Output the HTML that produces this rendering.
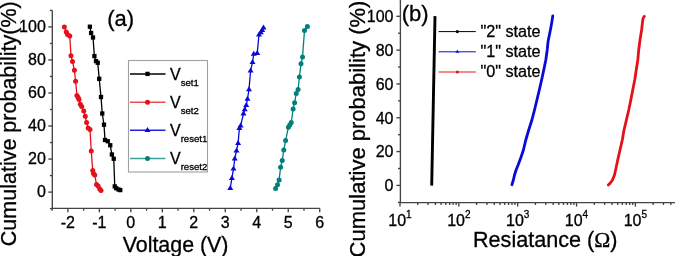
<!DOCTYPE html><html><head><meta charset="utf-8"><style>html,body{margin:0;padding:0;background:#fff;}svg{display:block;}text{font-family:"Liberation Sans",Arial,sans-serif;fill:#000;stroke:#000;stroke-width:0.3px;}</style></head><body>
<svg width="675" height="256" viewBox="0 0 675 256">
<rect width="675" height="256" fill="#fff"/>
<g stroke="#444" stroke-width="1.35" fill="none">
<path d="M52.3,10.4V208.3H319.7"/>
<path d="M67.89,208.3v4"/>
<path d="M99.37,208.3v4"/>
<path d="M130.85,208.3v4"/>
<path d="M162.33,208.3v4"/>
<path d="M193.81,208.3v4"/>
<path d="M225.29,208.3v4"/>
<path d="M256.77,208.3v4"/>
<path d="M288.25,208.3v4"/>
<path d="M319.73,208.3v4"/>
<path d="M52.15,208.3v2.4"/>
<path d="M83.63,208.3v2.4"/>
<path d="M115.11,208.3v2.4"/>
<path d="M146.59,208.3v2.4"/>
<path d="M178.07,208.3v2.4"/>
<path d="M209.55,208.3v2.4"/>
<path d="M241.03,208.3v2.4"/>
<path d="M272.51,208.3v2.4"/>
<path d="M303.99,208.3v2.4"/>
<path d="M52.3,192.10h-4"/>
<path d="M52.3,159.06h-4"/>
<path d="M52.3,126.02h-4"/>
<path d="M52.3,92.98h-4"/>
<path d="M52.3,59.94h-4"/>
<path d="M52.3,26.90h-4"/>
<path d="M52.3,208.62h-2.4"/>
<path d="M52.3,175.58h-2.4"/>
<path d="M52.3,142.54h-2.4"/>
<path d="M52.3,109.50h-2.4"/>
<path d="M52.3,76.46h-2.4"/>
<path d="M52.3,43.42h-2.4"/>
<path d="M52.3,10.38h-2.4"/>
</g>
<g font-size="16">
<text x="45.8" y="197.4" text-anchor="end">0</text>
<text x="45.8" y="164.4" text-anchor="end">20</text>
<text x="45.8" y="131.3" text-anchor="end">40</text>
<text x="45.8" y="98.3" text-anchor="end">60</text>
<text x="45.8" y="65.2" text-anchor="end">80</text>
<text x="45.8" y="32.2" text-anchor="end">100</text>
<text x="67.9" y="228" text-anchor="middle">-2</text>
<text x="99.4" y="228" text-anchor="middle">-1</text>
<text x="130.8" y="228" text-anchor="middle">0</text>
<text x="162.3" y="228" text-anchor="middle">1</text>
<text x="193.8" y="228" text-anchor="middle">2</text>
<text x="225.3" y="228" text-anchor="middle">3</text>
<text x="256.8" y="228" text-anchor="middle">4</text>
<text x="288.2" y="228" text-anchor="middle">5</text>
<text x="319.7" y="228" text-anchor="middle">6</text>
</g>
<text x="175.6" y="251.7" font-size="21.4" text-anchor="middle">Voltage (V)</text>
<text transform="translate(15.6,123.7) rotate(-90)" font-size="21.5" text-anchor="middle">Cumulative probability(%)</text>
<text x="107.3" y="25.5" font-size="22">(a)</text>
<polyline points="64.40,26.90 66.25,31.90 67.50,34.40 69.75,36.00 71.00,55.75 72.50,61.50 74.40,70.25 75.60,81.25 76.90,95.40 78.10,97.50 79.00,99.50 80.30,104.20 81.70,106.40 83.75,111.00 85.25,116.25 86.60,122.50 88.20,128.00 90.00,129.50 91.25,151.00 92.75,170.60 93.50,173.50 94.75,175.10 96.50,184.50 98.10,186.00 99.75,188.90 101.00,190.50" fill="none" stroke="#e6101a" stroke-width="1.3"/>
<circle cx="64.40" cy="26.90" r="2.5" fill="#e6101a"/>
<circle cx="66.25" cy="31.90" r="2.5" fill="#e6101a"/>
<circle cx="67.50" cy="34.40" r="2.5" fill="#e6101a"/>
<circle cx="69.75" cy="36.00" r="2.5" fill="#e6101a"/>
<circle cx="71.00" cy="55.75" r="2.5" fill="#e6101a"/>
<circle cx="72.50" cy="61.50" r="2.5" fill="#e6101a"/>
<circle cx="74.40" cy="70.25" r="2.5" fill="#e6101a"/>
<circle cx="75.60" cy="81.25" r="2.5" fill="#e6101a"/>
<circle cx="76.90" cy="95.40" r="2.5" fill="#e6101a"/>
<circle cx="78.10" cy="97.50" r="2.5" fill="#e6101a"/>
<circle cx="79.00" cy="99.50" r="2.5" fill="#e6101a"/>
<circle cx="80.30" cy="104.20" r="2.5" fill="#e6101a"/>
<circle cx="81.70" cy="106.40" r="2.5" fill="#e6101a"/>
<circle cx="83.75" cy="111.00" r="2.5" fill="#e6101a"/>
<circle cx="85.25" cy="116.25" r="2.5" fill="#e6101a"/>
<circle cx="86.60" cy="122.50" r="2.5" fill="#e6101a"/>
<circle cx="88.20" cy="128.00" r="2.5" fill="#e6101a"/>
<circle cx="90.00" cy="129.50" r="2.5" fill="#e6101a"/>
<circle cx="91.25" cy="151.00" r="2.5" fill="#e6101a"/>
<circle cx="92.75" cy="170.60" r="2.5" fill="#e6101a"/>
<circle cx="93.50" cy="173.50" r="2.5" fill="#e6101a"/>
<circle cx="94.75" cy="175.10" r="2.5" fill="#e6101a"/>
<circle cx="96.50" cy="184.50" r="2.5" fill="#e6101a"/>
<circle cx="98.10" cy="186.00" r="2.5" fill="#e6101a"/>
<circle cx="99.75" cy="188.90" r="2.5" fill="#e6101a"/>
<circle cx="101.00" cy="190.50" r="2.5" fill="#e6101a"/>
<polyline points="89.90,26.70 91.10,33.00 93.00,37.50 94.40,56.10 96.00,61.10 97.75,62.75 99.20,78.80 101.00,97.00 102.25,113.50 104.00,124.70 105.00,140.00 107.75,141.25 110.25,145.25 111.90,154.50 113.75,158.75 114.75,186.40 116.25,188.25 118.50,189.50 120.25,190.10" fill="none" stroke="#000" stroke-width="1.3"/>
<rect x="87.75" y="24.55" width="4.3" height="4.3" fill="#000"/>
<rect x="88.95" y="30.85" width="4.3" height="4.3" fill="#000"/>
<rect x="90.85" y="35.35" width="4.3" height="4.3" fill="#000"/>
<rect x="92.25" y="53.95" width="4.3" height="4.3" fill="#000"/>
<rect x="93.85" y="58.95" width="4.3" height="4.3" fill="#000"/>
<rect x="95.60" y="60.60" width="4.3" height="4.3" fill="#000"/>
<rect x="97.05" y="76.65" width="4.3" height="4.3" fill="#000"/>
<rect x="98.85" y="94.85" width="4.3" height="4.3" fill="#000"/>
<rect x="100.10" y="111.35" width="4.3" height="4.3" fill="#000"/>
<rect x="101.85" y="122.55" width="4.3" height="4.3" fill="#000"/>
<rect x="102.85" y="137.85" width="4.3" height="4.3" fill="#000"/>
<rect x="105.60" y="139.10" width="4.3" height="4.3" fill="#000"/>
<rect x="108.10" y="143.10" width="4.3" height="4.3" fill="#000"/>
<rect x="109.75" y="152.35" width="4.3" height="4.3" fill="#000"/>
<rect x="111.60" y="156.60" width="4.3" height="4.3" fill="#000"/>
<rect x="112.60" y="184.25" width="4.3" height="4.3" fill="#000"/>
<rect x="114.10" y="186.10" width="4.3" height="4.3" fill="#000"/>
<rect x="116.35" y="187.35" width="4.3" height="4.3" fill="#000"/>
<rect x="118.10" y="187.95" width="4.3" height="4.3" fill="#000"/>
<polyline points="263.50,27.60 262.20,30.10 260.80,32.50 259.00,34.60 257.25,53.10 253.75,54.00 252.50,62.30 250.60,70.60 249.00,89.40 247.50,99.00 246.25,105.20 244.75,109.40 243.50,113.75 240.60,125.60 239.40,128.10 238.10,143.10 236.50,150.60 234.75,158.75 233.50,168.75 231.90,178.10 230.25,188.10" fill="none" stroke="#0a0ad8" stroke-width="1.3"/>
<path d="M263.50,24.40l3,5h-6z" fill="#0a0ad8"/>
<path d="M262.20,26.90l3,5h-6z" fill="#0a0ad8"/>
<path d="M260.80,29.30l3,5h-6z" fill="#0a0ad8"/>
<path d="M259.00,31.40l3,5h-6z" fill="#0a0ad8"/>
<path d="M257.25,49.90l3,5h-6z" fill="#0a0ad8"/>
<path d="M253.75,50.80l3,5h-6z" fill="#0a0ad8"/>
<path d="M252.50,59.10l3,5h-6z" fill="#0a0ad8"/>
<path d="M250.60,67.40l3,5h-6z" fill="#0a0ad8"/>
<path d="M249.00,86.20l3,5h-6z" fill="#0a0ad8"/>
<path d="M247.50,95.80l3,5h-6z" fill="#0a0ad8"/>
<path d="M246.25,102.00l3,5h-6z" fill="#0a0ad8"/>
<path d="M244.75,106.20l3,5h-6z" fill="#0a0ad8"/>
<path d="M243.50,110.55l3,5h-6z" fill="#0a0ad8"/>
<path d="M240.60,122.40l3,5h-6z" fill="#0a0ad8"/>
<path d="M239.40,124.90l3,5h-6z" fill="#0a0ad8"/>
<path d="M238.10,139.90l3,5h-6z" fill="#0a0ad8"/>
<path d="M236.50,147.40l3,5h-6z" fill="#0a0ad8"/>
<path d="M234.75,155.55l3,5h-6z" fill="#0a0ad8"/>
<path d="M233.50,165.55l3,5h-6z" fill="#0a0ad8"/>
<path d="M231.90,174.90l3,5h-6z" fill="#0a0ad8"/>
<path d="M230.25,184.90l3,5h-6z" fill="#0a0ad8"/>
<polyline points="307.40,26.60 304.50,30.50 302.50,57.10 301.00,63.75 299.40,77.00 298.10,89.50 296.25,93.50 294.60,102.70 293.10,109.00 291.25,122.50 289.75,125.00 288.40,127.20 285.60,140.60 283.75,150.00 282.25,160.60 280.60,167.25 279.10,180.10 277.50,184.75 275.60,188.50" fill="none" stroke="#00807a" stroke-width="1.3"/>
<circle cx="307.40" cy="26.60" r="2.5" fill="#00807a"/>
<circle cx="304.50" cy="30.50" r="2.5" fill="#00807a"/>
<circle cx="302.50" cy="57.10" r="2.5" fill="#00807a"/>
<circle cx="301.00" cy="63.75" r="2.5" fill="#00807a"/>
<circle cx="299.40" cy="77.00" r="2.5" fill="#00807a"/>
<circle cx="298.10" cy="89.50" r="2.5" fill="#00807a"/>
<circle cx="296.25" cy="93.50" r="2.5" fill="#00807a"/>
<circle cx="294.60" cy="102.70" r="2.5" fill="#00807a"/>
<circle cx="293.10" cy="109.00" r="2.5" fill="#00807a"/>
<circle cx="291.25" cy="122.50" r="2.5" fill="#00807a"/>
<circle cx="289.75" cy="125.00" r="2.5" fill="#00807a"/>
<circle cx="288.40" cy="127.20" r="2.5" fill="#00807a"/>
<circle cx="285.60" cy="140.60" r="2.5" fill="#00807a"/>
<circle cx="283.75" cy="150.00" r="2.5" fill="#00807a"/>
<circle cx="282.25" cy="160.60" r="2.5" fill="#00807a"/>
<circle cx="280.60" cy="167.25" r="2.5" fill="#00807a"/>
<circle cx="279.10" cy="180.10" r="2.5" fill="#00807a"/>
<circle cx="277.50" cy="184.75" r="2.5" fill="#00807a"/>
<circle cx="275.60" cy="188.50" r="2.5" fill="#00807a"/>
<rect x="128.5" y="60.5" width="79" height="111.5" fill="#fff" stroke="#a0a0a0" stroke-width="1.1"/>
<line x1="130" y1="73.9" x2="165.5" y2="73.9" stroke="#000" stroke-width="1.5" stroke-opacity="1"/>
<rect x="145.35" y="71.75" width="4.3" height="4.3" fill="#000"/>
<text x="170" y="79.5" font-size="16">V<tspan font-size="9.6" dy="6.0">set1</tspan></text>
<line x1="130" y1="102.2" x2="165.5" y2="102.2" stroke="#e6101a" stroke-width="1.5" stroke-opacity="0.75"/>
<circle cx="147.5" cy="102.2" r="2.5" fill="#e6101a"/>
<text x="170" y="107.8" font-size="16">V<tspan font-size="9.6" dy="6.0">set2</tspan></text>
<line x1="130" y1="130.3" x2="165.5" y2="130.3" stroke="#0a0ad8" stroke-width="1.5" stroke-opacity="0.9"/>
<path d="M147.5,127.10l3,5h-6z" fill="#0a0ad8"/>
<text x="170" y="135.9" font-size="16">V<tspan font-size="9.6" dy="6.0">reset1</tspan></text>
<line x1="130" y1="158.5" x2="165.5" y2="158.5" stroke="#00807a" stroke-width="1.5" stroke-opacity="0.75"/>
<circle cx="147.5" cy="158.5" r="2.5" fill="#00807a"/>
<text x="170" y="164.1" font-size="16">V<tspan font-size="9.6" dy="6.0">reset2</tspan></text>
<g stroke="#444" stroke-width="1.35" fill="none">
<path d="M400.4,-0.6V202.6H675"/>
<path d="M400.4,185.40h-4"/>
<path d="M400.4,151.58h-4"/>
<path d="M400.4,117.76h-4"/>
<path d="M400.4,83.94h-4"/>
<path d="M400.4,50.12h-4"/>
<path d="M400.4,16.30h-4"/>
<path d="M400.4,202.31h-2.4"/>
<path d="M400.4,168.49h-2.4"/>
<path d="M400.4,134.67h-2.4"/>
<path d="M400.4,100.85h-2.4"/>
<path d="M400.4,67.03h-2.4"/>
<path d="M400.4,33.21h-2.4"/>
<path d="M400.4,-0.61h-2.4"/>
<path d="M400.00,202.6v4"/>
<path d="M417.72,202.6v2.4"/>
<path d="M428.08,202.6v2.4"/>
<path d="M435.43,202.6v2.4"/>
<path d="M441.13,202.6v2.4"/>
<path d="M445.79,202.6v2.4"/>
<path d="M449.73,202.6v2.4"/>
<path d="M453.15,202.6v2.4"/>
<path d="M456.16,202.6v2.4"/>
<path d="M458.85,202.6v4"/>
<path d="M476.57,202.6v2.4"/>
<path d="M486.93,202.6v2.4"/>
<path d="M494.28,202.6v2.4"/>
<path d="M499.98,202.6v2.4"/>
<path d="M504.64,202.6v2.4"/>
<path d="M508.58,202.6v2.4"/>
<path d="M512.00,202.6v2.4"/>
<path d="M515.01,202.6v2.4"/>
<path d="M517.70,202.6v4"/>
<path d="M535.42,202.6v2.4"/>
<path d="M545.78,202.6v2.4"/>
<path d="M553.13,202.6v2.4"/>
<path d="M558.83,202.6v2.4"/>
<path d="M563.49,202.6v2.4"/>
<path d="M567.43,202.6v2.4"/>
<path d="M570.85,202.6v2.4"/>
<path d="M573.86,202.6v2.4"/>
<path d="M576.55,202.6v4"/>
<path d="M594.27,202.6v2.4"/>
<path d="M604.63,202.6v2.4"/>
<path d="M611.98,202.6v2.4"/>
<path d="M617.68,202.6v2.4"/>
<path d="M622.34,202.6v2.4"/>
<path d="M626.28,202.6v2.4"/>
<path d="M629.70,202.6v2.4"/>
<path d="M632.71,202.6v2.4"/>
<path d="M635.40,202.6v4"/>
<path d="M653.12,202.6v2.4"/>
<path d="M663.48,202.6v2.4"/>
<path d="M670.83,202.6v2.4"/>
</g>
<g font-size="16">
<text x="393.5" y="191.1" text-anchor="end">0</text>
<text x="393.5" y="157.3" text-anchor="end">20</text>
<text x="393.5" y="123.5" text-anchor="end">40</text>
<text x="393.5" y="89.6" text-anchor="end">60</text>
<text x="393.5" y="55.8" text-anchor="end">80</text>
<text x="393.5" y="22.0" text-anchor="end">100</text>
<text x="400.0" y="225.6" text-anchor="middle">10<tspan font-size="10" dy="-8">1</tspan></text>
<text x="458.9" y="225.6" text-anchor="middle">10<tspan font-size="10" dy="-8">2</tspan></text>
<text x="517.7" y="225.6" text-anchor="middle">10<tspan font-size="10" dy="-8">3</tspan></text>
<text x="576.5" y="225.6" text-anchor="middle">10<tspan font-size="10" dy="-8">4</tspan></text>
<text x="635.4" y="225.6" text-anchor="middle">10<tspan font-size="10" dy="-8">5</tspan></text>
</g>
<text x="473" y="247.3" font-size="21.6">Resiatance (<tspan font-family="Liberation Serif">&#937;</tspan>)</text>
<text transform="translate(364.5,129) rotate(-90)" font-size="22" text-anchor="middle">Cumulative probability (%)</text>
<text x="401.7" y="21" font-size="22">(b)</text>
<polyline points="431.70,185.60 435.00,16.10" fill="none" stroke="#000" stroke-width="2.9"/>
<polyline points="552.80,15.90 551.25,25.60 549.70,33.40 548.10,41.25 547.20,50.00 545.80,60.00 543.75,70.00 541.60,80.00 539.30,90.00 536.90,100.00 534.50,110.00 531.90,120.00 528.70,130.00 525.80,140.00 523.40,150.00 520.90,157.50 518.10,165.00 516.10,170.00 514.50,175.00 513.40,180.00 511.90,184.70" fill="none" stroke="#0a0ad8" stroke-width="2.8" stroke-linejoin="round" stroke-linecap="round"/>
<polyline points="644.40,16.30 643.20,18.00 642.80,20.00 641.60,30.00 640.00,40.00 638.70,50.00 637.80,60.00 636.25,70.00 634.70,80.00 632.75,90.00 630.80,100.00 628.75,110.00 626.40,120.00 624.00,130.00 622.30,140.00 620.00,150.00 617.70,160.00 615.60,170.00 614.50,175.00 612.50,180.00 610.30,183.00 608.30,185.00" fill="none" stroke="#e6101a" stroke-width="2.8" stroke-linejoin="round" stroke-linecap="round"/>
<line x1="438.6" y1="31.6" x2="475.8" y2="31.6" stroke="#000" stroke-width="1"/>
<circle cx="457.3" cy="31.6" r="1.6" fill="#000"/>
<text x="480.5" y="37.0" font-size="16.2">&quot;2&quot; state</text>
<line x1="438.6" y1="51.8" x2="475.8" y2="51.8" stroke="#0a0ad8" stroke-width="1"/>
<path d="M457.3,49.8l2,3h-4z" fill="#0a0ad8"/>
<text x="480.5" y="57.2" font-size="16.2">&quot;1&quot; state</text>
<line x1="438.6" y1="72" x2="475.8" y2="72" stroke="#e6101a" stroke-width="1"/>
<circle cx="457.3" cy="72" r="1.6" fill="#e6101a"/>
<text x="480.5" y="77.4" font-size="16.2">&quot;0&quot; state</text>
</svg></body></html>
